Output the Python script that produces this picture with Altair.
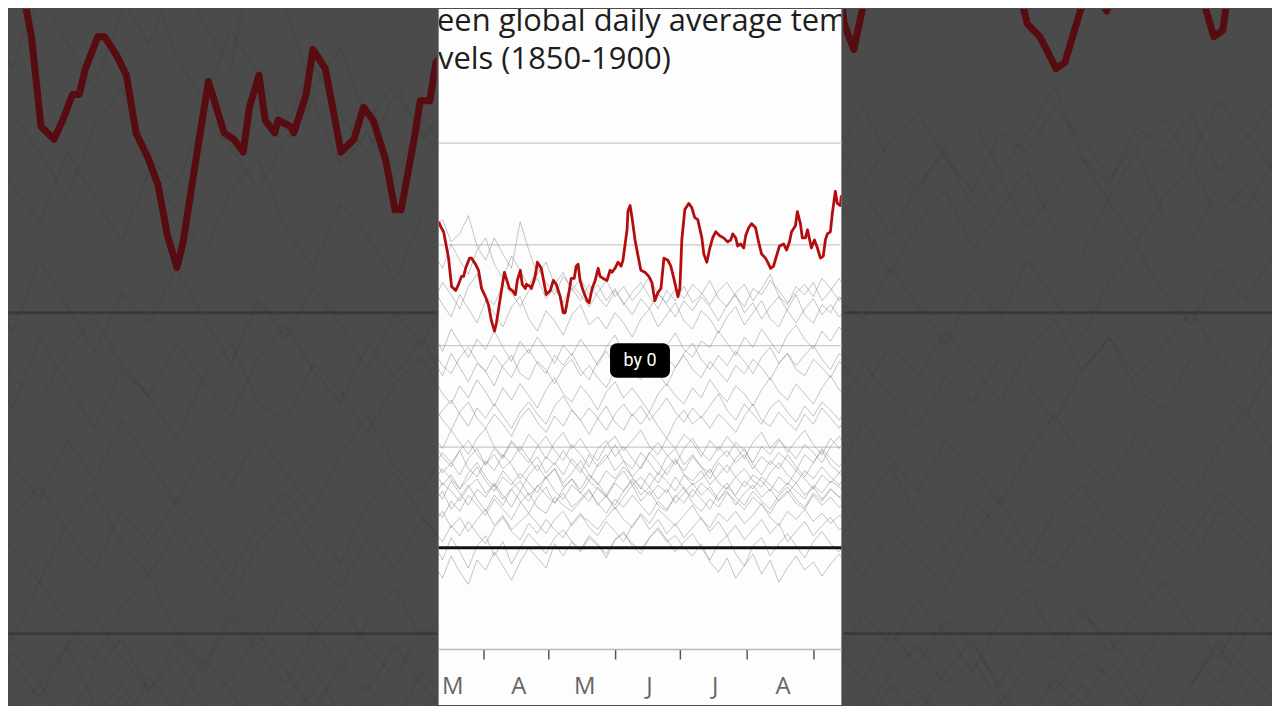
import altair as alt
import pandas as pd

# ---------------- text ----------------
TITLE_LINES = [
    "Difference between global daily average temperatures and",
    "pre-industrial levels (1850-1900)",
]
CAPTION_TEXT = ["by 0"]
MONTH_LABELS = ["M", "A", "M", "J", "J", "A"]
MONTH_LABEL_DAYS = [76.5, 107.2, 137.7, 167.8, 198.3, 229.7]
MONTH_START_DAYS = [91, 121, 152, 182, 213, 244]
GRID_VALUES = [0.5, 1.0, 1.5, 2.0]
BG_GRID_VALUES = [0.5, 1.0, 1.5]
ZERO_LINE = [0.0]

# ---------------- current year (red) ----------------
RED_DAYS = [70.2, 71.4, 72.5, 73.4, 74.8, 76.2, 78.1, 79.4, 80.8, 81.8,
            82.7, 84.5, 85.5, 87.3, 88.7, 90.1, 91.9, 93.3, 94.7, 96.1,
            97.0, 98.9, 100.7, 103.0, 104.4, 105.8, 106.7, 108.1, 109.0, 110.4,
            110.9, 112.7, 113.2, 115.0, 116.0, 117.8, 118.7, 120.1, 122.0, 123.4,
            124.8, 126.6, 128.0, 128.9, 130.8, 131.7, 133.1, 134.0, 134.9, 135.8,
            137.2, 139.1, 140.0, 141.4, 142.8, 144.2, 145.1, 146.5, 148.3, 149.7,
            150.6, 152.0, 153.4, 154.8, 155.7, 157.6, 158.0, 159.0, 159.9, 161.3,
            162.7, 164.0, 165.9, 167.7, 169.1, 170.5, 171.9, 173.3, 174.7, 176.5,
            177.9, 179.3, 181.2, 182.1, 183.0, 184.4, 186.2, 187.6, 189.0, 190.4,
            192.3, 193.2, 194.6, 196.0, 197.3, 198.7, 200.6, 202.4, 204.3, 205.7,
            206.6, 208.0, 208.9, 210.3, 211.7, 212.6, 214.0, 215.4, 217.2, 218.6,
            220.0, 221.8, 222.8, 224.2, 225.5, 226.9, 228.3, 230.2, 231.6, 232.9,
            233.9, 235.7, 236.6, 238.0, 238.9, 240.3, 241.3, 243.1, 244.5, 245.9,
            247.3, 248.6, 249.6, 250.5, 251.9, 252.8, 254.2, 255.1, 256.5, 257.0]
RED_VALUES = [1.61, 1.58, 1.56, 1.51, 1.43, 1.29, 1.27, 1.30, 1.34, 1.34,
              1.38, 1.43, 1.43, 1.40, 1.37, 1.28, 1.24, 1.20, 1.12, 1.07,
              1.11, 1.24, 1.36, 1.28, 1.27, 1.25, 1.32, 1.37, 1.30, 1.28,
              1.30, 1.29, 1.28, 1.34, 1.41, 1.38, 1.33, 1.25, 1.27, 1.32,
              1.30, 1.24, 1.16, 1.16, 1.27, 1.33, 1.33, 1.39, 1.40, 1.32,
              1.27, 1.22, 1.21, 1.28, 1.32, 1.38, 1.34, 1.33, 1.32, 1.37,
              1.36, 1.38, 1.41, 1.39, 1.42, 1.57, 1.66, 1.69, 1.63, 1.52,
              1.44, 1.37, 1.36, 1.34, 1.31, 1.22, 1.26, 1.28, 1.43, 1.42,
              1.39, 1.33, 1.24, 1.28, 1.52, 1.67, 1.70, 1.68, 1.63, 1.62,
              1.53, 1.45, 1.41, 1.48, 1.53, 1.56, 1.54, 1.53, 1.51, 1.52,
              1.55, 1.53, 1.49, 1.50, 1.48, 1.54, 1.58, 1.60, 1.58, 1.51,
              1.45, 1.43, 1.41, 1.38, 1.39, 1.44, 1.49, 1.50, 1.47, 1.51,
              1.56, 1.59, 1.66, 1.60, 1.53, 1.53, 1.57, 1.48, 1.52, 1.48,
              1.43, 1.44, 1.52, 1.55, 1.56, 1.65, 1.76, 1.70, 1.69, 1.74]

# ---------------- earlier years (grey) ----------------
GREY_DAYS = [68, 72, 76, 80, 84, 88, 92, 96, 100, 104, 108, 112, 116, 120, 124, 128,
             132, 136, 140, 144, 148, 152, 156, 160, 164, 168, 172, 176, 180, 184,
             188, 192, 196, 200, 204, 208, 212, 216, 220, 224, 228, 232, 236, 240,
             244, 248, 252, 256, 260]
GREY_SERIES = [
    [1.58, 1.62, 1.51, 1.55, 1.64, 1.49, 1.42, 1.53, 1.45, 1.38, 1.61, 1.47, 1.35, 1.41, 1.30, 1.36, 1.27, 1.33, 1.25, 1.30, 1.22, 1.28, 1.20, 1.26, 1.31, 1.24, 1.18, 1.27, 1.22, 1.29, 1.21, 1.25, 1.32, 1.23, 1.19, 1.26, 1.30, 1.22, 1.28, 1.35, 1.24, 1.20, 1.29, 1.25, 1.31, 1.22, 1.27, 1.33, 1.26],
    [1.45, 1.38, 1.50, 1.42, 1.35, 1.47, 1.53, 1.40, 1.33, 1.44, 1.37, 1.29, 1.39, 1.31, 1.25, 1.34, 1.28, 1.22, 1.30, 1.24, 1.19, 1.27, 1.21, 1.15, 1.23, 1.18, 1.26, 1.20, 1.14, 1.22, 1.17, 1.24, 1.19, 1.12, 1.20, 1.25, 1.16, 1.21, 1.13, 1.19, 1.24, 1.17, 1.11, 1.18, 1.23, 1.15, 1.20, 1.14, 1.19],
    [1.22, 1.31, 1.25, 1.18, 1.29, 1.35, 1.24, 1.20, 1.30, 1.26, 1.19, 1.27, 1.33, 1.23, 1.28, 1.21, 1.30, 1.25, 1.19, 1.26, 1.32, 1.24, 1.29, 1.22, 1.27, 1.34, 1.25, 1.21, 1.28, 1.23, 1.30, 1.26, 1.20, 1.27, 1.31, 1.24, 1.19, 1.28, 1.25, 1.32, 1.27, 1.21, 1.26, 1.30, 1.24, 1.33, 1.28, 1.22, 1.29],
    [1.28, 1.20, 1.14, 1.25, 1.18, 1.11, 1.22, 1.16, 1.09, 1.19, 1.24, 1.13, 1.07, 1.17, 1.12, 1.05, 1.15, 1.20, 1.10, 1.14, 1.08, 1.16, 1.11, 1.04, 1.13, 1.18, 1.09, 1.15, 1.21, 1.12, 1.08, 1.17, 1.13, 1.06, 1.14, 1.19, 1.10, 1.16, 1.22, 1.13, 1.09, 1.18, 1.25, 1.15, 1.11, 1.20, 1.16, 1.24, 1.18],
    [1.05, 0.97, 1.08, 1.01, 0.94, 1.03, 0.98, 1.07, 0.99, 0.92, 1.02, 0.96, 1.04, 0.98, 0.91, 1.00, 0.95, 1.03, 0.97, 0.90, 0.99, 1.05, 0.96, 0.93, 1.01, 0.97, 0.92, 1.00, 1.06, 0.98, 0.94, 1.02, 0.99, 1.07, 1.01, 0.95, 1.04, 0.99, 1.08, 1.02, 0.96, 1.05, 1.10, 1.03, 0.98, 1.07, 1.02, 1.09, 1.04],
    [0.97, 0.90, 0.86, 0.94, 0.99, 0.92, 0.87, 0.95, 0.89, 0.84, 0.93, 0.98, 0.91, 0.86, 0.95, 0.90, 0.96, 0.88, 0.83, 0.92, 0.97, 0.90, 0.85, 0.93, 0.99, 0.91, 0.87, 0.94, 0.89, 0.96, 1.01, 0.93, 0.88, 0.95, 0.90, 0.97, 0.92, 0.86, 0.94, 0.99, 0.91, 0.96, 0.90, 0.95, 1.00, 0.93, 0.88, 0.96, 0.92],
    [0.92, 0.85, 0.96, 0.89, 0.82, 0.91, 0.87, 0.80, 0.90, 0.95, 0.86, 0.83, 0.92, 0.88, 0.81, 0.89, 0.93, 0.85, 0.90, 0.84, 0.79, 0.88, 0.94, 0.87, 0.83, 0.91, 0.86, 0.80, 0.89, 0.95, 0.88, 0.84, 0.92, 0.87, 0.82, 0.90, 0.86, 0.93, 0.89, 0.83, 0.91, 0.96, 0.88, 0.85, 0.93, 0.89, 0.84, 0.92, 0.87],
    [0.84, 0.76, 0.71, 0.80, 0.74, 0.83, 0.77, 0.70, 0.79, 0.73, 0.81, 0.75, 0.69, 0.78, 0.84, 0.76, 0.72, 0.80, 0.75, 0.68, 0.77, 0.82, 0.74, 0.79, 0.73, 0.67, 0.76, 0.81, 0.75, 0.71, 0.79, 0.74, 0.83, 0.77, 0.72, 0.80, 0.76, 0.70, 0.78, 0.84, 0.77, 0.73, 0.81, 0.76, 0.71, 0.79, 0.85, 0.78, 0.74],
    [0.70, 0.63, 0.58, 0.67, 0.72, 0.64, 0.59, 0.66, 0.61, 0.55, 0.64, 0.69, 0.62, 0.57, 0.65, 0.60, 0.68, 0.63, 0.56, 0.64, 0.70, 0.62, 0.58, 0.66, 0.61, 0.67, 0.60, 0.54, 0.63, 0.68, 0.61, 0.65, 0.59, 0.66, 0.62, 0.57, 0.65, 0.71, 0.63, 0.60, 0.67, 0.62, 0.58, 0.66, 0.61, 0.69, 0.64, 0.59, 0.66],
    [0.62, 0.68, 0.73, 0.66, 0.60, 0.69, 0.64, 0.71, 0.65, 0.59, 0.67, 0.72, 0.66, 0.61, 0.70, 0.75, 0.68, 0.63, 0.69, 0.64, 0.58, 0.66, 0.71, 0.65, 0.70, 0.63, 0.68, 0.74, 0.67, 0.62, 0.69, 0.64, 0.70, 0.76, 0.68, 0.63, 0.71, 0.66, 0.61, 0.69, 0.73, 0.67, 0.62, 0.70, 0.65, 0.72, 0.68, 0.63, 0.70],
    [0.55, 0.49, 0.58, 0.52, 0.46, 0.54, 0.59, 0.50, 0.45, 0.53, 0.48, 0.56, 0.51, 0.44, 0.52, 0.57, 0.49, 0.54, 0.47, 0.43, 0.51, 0.55, 0.48, 0.53, 0.58, 0.50, 0.46, 0.54, 0.49, 0.56, 0.52, 0.45, 0.53, 0.48, 0.55, 0.50, 0.44, 0.52, 0.57, 0.49, 0.54, 0.47, 0.53, 0.58, 0.51, 0.46, 0.54, 0.49, 0.55],
    [0.51, 0.45, 0.40, 0.48, 0.53, 0.46, 0.41, 0.49, 0.44, 0.52, 0.47, 0.42, 0.50, 0.55, 0.48, 0.43, 0.51, 0.46, 0.40, 0.49, 0.53, 0.45, 0.50, 0.44, 0.39, 0.47, 0.52, 0.46, 0.41, 0.49, 0.54, 0.47, 0.43, 0.50, 0.45, 0.52, 0.48, 0.42, 0.50, 0.46, 0.53, 0.49, 0.44, 0.51, 0.47, 0.42, 0.50, 0.55, 0.48],
    [0.40, 0.47, 0.42, 0.36, 0.44, 0.49, 0.41, 0.46, 0.39, 0.43, 0.50, 0.44, 0.38, 0.45, 0.41, 0.48, 0.42, 0.37, 0.46, 0.40, 0.44, 0.51, 0.43, 0.39, 0.47, 0.42, 0.36, 0.45, 0.49, 0.41, 0.46, 0.40, 0.37, 0.44, 0.48, 0.42, 0.46, 0.39, 0.45, 0.41, 0.47, 0.43, 0.38, 0.46, 0.42, 0.49, 0.44, 0.40, 0.45],
    [0.44, 0.37, 0.42, 0.48, 0.39, 0.35, 0.43, 0.38, 0.46, 0.41, 0.34, 0.40, 0.45, 0.37, 0.42, 0.36, 0.44, 0.39, 0.33, 0.41, 0.46, 0.38, 0.43, 0.35, 0.40, 0.47, 0.42, 0.36, 0.43, 0.38, 0.45, 0.40, 0.34, 0.42, 0.37, 0.44, 0.49, 0.41, 0.36, 0.43, 0.39, 0.46, 0.40, 0.35, 0.42, 0.48, 0.41, 0.37, 0.43],
    [0.38, 0.31, 0.36, 0.29, 0.34, 0.40, 0.33, 0.28, 0.35, 0.31, 0.37, 0.32, 0.27, 0.35, 0.39, 0.30, 0.34, 0.29, 0.36, 0.32, 0.26, 0.33, 0.38, 0.31, 0.35, 0.30, 0.37, 0.33, 0.28, 0.36, 0.31, 0.34, 0.39, 0.32, 0.29, 0.35, 0.30, 0.36, 0.33, 0.28, 0.35, 0.31, 0.38, 0.34, 0.29, 0.36, 0.32, 0.37, 0.33],
    [0.33, 0.39, 0.34, 0.29, 0.37, 0.42, 0.35, 0.30, 0.38, 0.33, 0.28, 0.36, 0.41, 0.34, 0.39, 0.32, 0.37, 0.43, 0.36, 0.31, 0.38, 0.34, 0.40, 0.35, 0.29, 0.37, 0.32, 0.39, 0.44, 0.36, 0.33, 0.38, 0.31, 0.36, 0.41, 0.35, 0.39, 0.33, 0.30, 0.37, 0.42, 0.36, 0.32, 0.38, 0.34, 0.40, 0.35, 0.31, 0.37],
    [0.30, 0.24, 0.33, 0.27, 0.21, 0.29, 0.25, 0.32, 0.26, 0.20, 0.28, 0.23, 0.31, 0.26, 0.22, 0.29, 0.34, 0.27, 0.23, 0.30, 0.25, 0.21, 0.28, 0.33, 0.26, 0.30, 0.24, 0.29, 0.22, 0.27, 0.32, 0.26, 0.30, 0.24, 0.28, 0.21, 0.27, 0.31, 0.25, 0.29, 0.23, 0.27, 0.32, 0.26, 0.30, 0.24, 0.29, 0.25, 0.28],
    [0.25, 0.32, 0.28, 0.23, 0.30, 0.34, 0.27, 0.31, 0.24, 0.29, 0.33, 0.26, 0.30, 0.35, 0.28, 0.24, 0.31, 0.27, 0.33, 0.29, 0.25, 0.32, 0.28, 0.34, 0.30, 0.26, 0.31, 0.27, 0.35, 0.29, 0.25, 0.32, 0.28, 0.23, 0.30, 0.26, 0.33, 0.29, 0.35, 0.31, 0.27, 0.32, 0.28, 0.24, 0.31, 0.27, 0.33, 0.30, 0.26],
    [0.22, 0.28, 0.19, 0.25, 0.31, 0.24, 0.18, 0.26, 0.21, 0.29, 0.23, 0.17, 0.25, 0.30, 0.22, 0.27, 0.20, 0.24, 0.29, 0.21, 0.26, 0.19, 0.25, 0.31, 0.23, 0.28, 0.21, 0.18, 0.26, 0.22, 0.29, 0.24, 0.19, 0.27, 0.32, 0.25, 0.21, 0.28, 0.23, 0.19, 0.26, 0.30, 0.24, 0.20, 0.27, 0.23, 0.29, 0.25, 0.21],
    [0.20, 0.15, 0.23, 0.18, 0.26, 0.21, 0.16, 0.24, 0.19, 0.14, 0.22, 0.27, 0.20, 0.17, 0.25, 0.21, 0.18, 0.23, 0.28, 0.22, 0.17, 0.24, 0.20, 0.26, 0.21, 0.16, 0.23, 0.19, 0.25, 0.30, 0.22, 0.18, 0.24, 0.20, 0.27, 0.23, 0.19, 0.25, 0.21, 0.17, 0.24, 0.28, 0.22, 0.19, 0.26, 0.21, 0.25, 0.20, 0.23],
    [0.12, 0.18, 0.10, 0.15, 0.08, 0.14, 0.19, 0.11, 0.16, 0.09, 0.13, 0.17, 0.12, 0.07, 0.14, 0.18, 0.11, 0.16, 0.13, 0.09, 0.15, 0.20, 0.14, 0.10, 0.17, 0.12, 0.19, 0.15, 0.11, 0.16, 0.21, 0.14, 0.10, 0.17, 0.13, 0.18, 0.12, 0.16, 0.22, 0.15, 0.11, 0.18, 0.14, 0.19, 0.13, 0.17, 0.12, 0.16, 0.14],
    [0.08, 0.03, 0.11, 0.06, 0.13, 0.07, 0.02, 0.10, 0.15, 0.08, 0.04, 0.12, 0.07, 0.14, 0.09, 0.05, 0.12, 0.17, 0.10, 0.06, 0.13, 0.08, 0.03, 0.11, 0.16, 0.09, 0.14, 0.07, 0.12, 0.05, 0.10, 0.15, 0.08, 0.13, 0.06, 0.11, 0.04, 0.09, 0.14, 0.07, 0.12, 0.03, 0.08, 0.13, 0.06, 0.11, 0.15, 0.09, 0.12],
    [0.02, -0.06, 0.05, -0.02, -0.10, 0.01, 0.06, -0.04, 0.03, -0.08, 0.00, 0.07, 0.02, -0.03, 0.05, 0.09, 0.03, -0.01, 0.06, 0.02, -0.05, 0.04, 0.08, 0.01, -0.03, 0.05, 0.10, 0.04, -0.02, 0.03, 0.07, 0.00, -0.06, 0.02, 0.06, -0.03, -0.09, 0.01, 0.05, -0.04, 0.02, 0.07, 0.01, -0.05, 0.03, 0.08, 0.02, -0.02, 0.04],
    [-0.08, -0.15, -0.04, -0.12, -0.18, -0.06, -0.11, -0.02, -0.09, -0.16, -0.07, 0.00, -0.05, -0.10, 0.02, -0.04, 0.03, -0.02, 0.05, 0.01, -0.03, 0.04, 0.07, 0.02, -0.01, 0.05, 0.09, 0.03, 0.06, 0.00, -0.04, 0.02, -0.07, -0.12, -0.05, -0.15, -0.09, -0.03, -0.13, -0.06, -0.17, -0.10, -0.04, -0.11, -0.07, -0.14, -0.08, -0.03, -0.09],
]

# caption box (in data units of the chart)
CAPTION_BOX_DAYS = [149.7, 177.5]
CAPTION_BOX_VALUES = [1.01, 0.84]
CAPTION_AT = [163.6, 0.92]

# visible windows
MID_X_DOMAIN = [70.2, 257.0]
MID_Y_DOMAIN = [-0.5, 2.0]
LEFT_X_DOMAIN = [71.37, 134.1]
RIGHT_X_DOMAIN = [193.07, 255.8]
BG_Y_DOMAIN = [0.388, 1.473]

W_SIDE, W_MID, H = 430, 404, 698
FONT = "Open Sans"

red_df = pd.DataFrame({"day": RED_DAYS, "value": RED_VALUES})
grey_df = pd.DataFrame(
    [{"series": i, "day": d, "value": v}
     for i, s in enumerate(GREY_SERIES) for d, v in zip(GREY_DAYS, s)]
)
zero_df = pd.DataFrame({"value": ZERO_LINE})
title1_df = pd.DataFrame({"text": [TITLE_LINES[0]]})
title2_df = pd.DataFrame({"text": [TITLE_LINES[1]]})
cap_box_df = pd.DataFrame({"day": [CAPTION_BOX_DAYS[0]], "day2": [CAPTION_BOX_DAYS[1]],
                           "value": [CAPTION_BOX_VALUES[0]], "value2": [CAPTION_BOX_VALUES[1]]})
cap_text_df = pd.DataFrame({"day": [CAPTION_AT[0]], "value": [CAPTION_AT[1]], "label": CAPTION_TEXT})

# ---------------- side (blurred background) panels ----------------
bg_y_axis = alt.Axis(values=BG_GRID_VALUES, grid=True, gridColor="#3a3a3a", gridWidth=3,
                     labels=False, ticks=False, domain=False, title=None)


def side_panel(x_domain):
    xs = alt.X("day:Q", scale=alt.Scale(domain=x_domain, nice=False, zero=False), axis=None)
    ys = alt.Y("value:Q", scale=alt.Scale(domain=BG_Y_DOMAIN, nice=False, zero=False), axis=bg_y_axis)
    grey = alt.Chart(grey_df).mark_line(color="#333333", opacity=0.15, strokeWidth=2.2, clip=True).encode(
        x=xs, y=ys, detail="series:N")
    red = alt.Chart(red_df).mark_line(color="#560c10", strokeWidth=7, clip=True, strokeJoin="round").encode(
        x=xs, y=ys)
    return alt.layer(grey, red).properties(
        width=W_SIDE, height=H, view=alt.ViewBackground(fill="#4b4b4b", strokeWidth=0))


# ---------------- middle panel ----------------
tick_values = sorted(MONTH_START_DAYS + MONTH_LABEL_DAYS)
label_expr = " : ".join(f"datum.value == {d} ? '{l}'" for d, l in zip(MONTH_LABEL_DAYS, MONTH_LABELS)) + " : ''"
x_axis_mid = alt.Axis(
    values=tick_values, grid=False, title=None, orient="bottom", offset=-56,
    domainColor="#b8b8b8", domainWidth=1.5, tickColor="#555555", tickWidth=1.5, tickSize=10,
    tickOpacity={"condition": {"test": f"indexof({MONTH_START_DAYS}, datum.value) >= 0", "value": 1}, "value": 0},
    labelExpr=label_expr, labelFont=FONT, labelFontSize=24, labelColor="#666666", labelPadding=16,
    labelOverlap=False, labelFlush=False,
)
y_axis_mid = alt.Axis(values=GRID_VALUES, grid=True, gridColor="#c9c9c9", gridWidth=1.2,
                      labels=False, ticks=False, domain=False, title=None)

mx = alt.X("day:Q", scale=alt.Scale(domain=MID_X_DOMAIN, nice=False, zero=False), axis=x_axis_mid)
my = alt.Y("value:Q", scale=alt.Scale(domain=MID_Y_DOMAIN, range=[642, 134], nice=False, zero=False),
           axis=y_axis_mid)

grey_mid = alt.Chart(grey_df).mark_line(color="#747474", opacity=0.42, strokeWidth=1, clip=True).encode(
    x=mx, y=my, detail="series:N")
zero_mid = alt.Chart(zero_df).mark_rule(color="#111111", strokeWidth=3).encode(y=my)
red_mid = alt.Chart(red_df).mark_line(color="#b30d0d", strokeWidth=2.8, clip=True, strokeJoin="round").encode(
    x=mx, y=my)
cap_box = alt.Chart(cap_box_df).mark_rect(color="#000000", cornerRadius=7).encode(
    x=mx, x2=alt.X2("day2:Q"), y=my, y2=alt.Y2("value2:Q"))
cap_text = alt.Chart(cap_text_df).mark_text(color="#ffffff", fontSize=18, font="Roboto").encode(
    x=mx, y=my, text="label:N")
title_style = dict(align="left", baseline="alphabetic", font=FONT, fontSize=31, color="#1e1e1e", clip=True)
title_l1 = alt.Chart(title1_df).mark_text(**title_style).encode(
    text="text:N", x=alt.value(-231), y=alt.value(22))
title_l2 = alt.Chart(title2_df).mark_text(**title_style).encode(
    text="text:N", x=alt.value(-229), y=alt.value(60))

mid = alt.layer(grey_mid, zero_mid, red_mid, cap_box, cap_text, title_l1, title_l2).properties(
    width=W_MID, height=H, view=alt.ViewBackground(fill="#fdfdfd", strokeWidth=0))

chart = alt.hconcat(side_panel(LEFT_X_DOMAIN), mid, side_panel(RIGHT_X_DOMAIN), spacing=0).properties(
    padding=0, background="#4b4b4b").configure_view(strokeWidth=0)

chart.save("out.html", embed_options={"renderer": "svg", "actions": False})
